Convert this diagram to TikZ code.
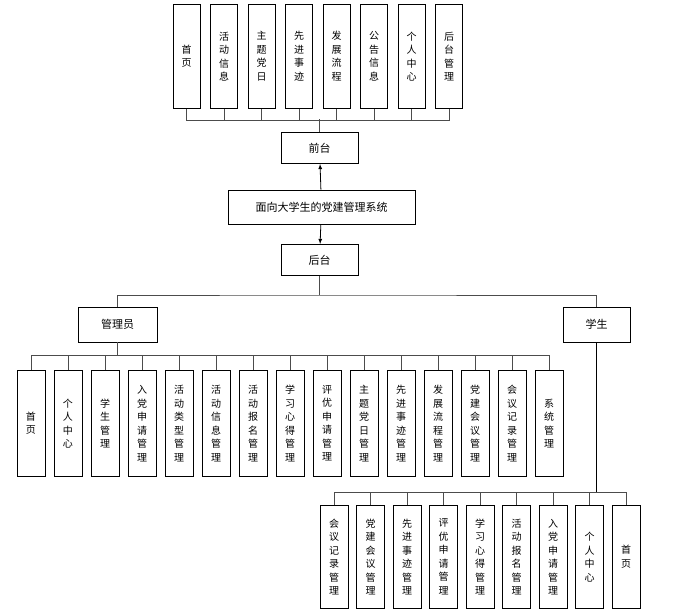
\documentclass[tikz,border=0pt]{standalone}
\usepackage{fontspec}
\newfontfamily\cjk{Noto Sans CJK SC}
\usetikzlibrary{calc}
\begin{document}
\begin{tikzpicture}[x=1pt,y=-1pt,font=\cjk\fontsize{10}{13.5}\selectfont,
 box/.style={draw,thick,fill=white,inner sep=0pt,align=center},
 vb/.style={box,minimum width=27pt,minimum height=104pt,anchor=north},
 hb/.style={box,minimum width=77pt,minimum height=31pt,font=\cjk\fontsize{11}{13}\selectfont},
 ln/.style={draw,thick,gray!60!black},
 arr/.style={draw,thick,-latex}]
\useasboundingbox (0,0) rectangle (681,613);
% top row
\foreach \t [count=\i] in {首\\页,活\\动\\信\\息,主\\题\\党\\日,先\\进\\事\\迹,发\\展\\流\\程,公\\告\\信\\息,个\\人\\中\\心,后\\台\\管\\理}{
  \node[vb] (t\i) at ({186.5+(\i-1)*37.5},4) {\t};
  \draw[ln] (t\i.south) -- ++(0,12);
}
\draw[ln] ($(t1.south)+(0,12)$) -- ($(t8.south)+(0,12)$);
\node[hb] (front) at (319.5,148) {前台};
\draw[ln] (front.north) -- ++(0,-13);
\node[box,minimum width=187pt,minimum height=34pt,font=\cjk\fontsize{11}{13}\selectfont] (sys) at (321.5,207) {面向大学生的党建管理系统};
\node[hb] (back) at (319.5,260) {后台};
\draw[arr] (sys) -- (front);
\draw[arr] (sys) -- (back);
\node[box,minimum width=79pt,minimum height=35pt,font=\cjk\fontsize{11}{13}\selectfont] (adm) at (117.5,324.5) {管理员};
\node[box,minimum width=67pt,minimum height=35pt,font=\cjk\fontsize{11}{13}\selectfont] (stu) at (596.5,324.5) {学生};
\coordinate (j1) at (319.5,295);
\draw[ln] (back.south) -- (j1);
\draw[ln] (adm.north) |- (j1) -| (stu.north);
% admin children
\foreach \t [count=\i] in {首\\页,个\\人\\中\\心,学\\生\\管\\理,入\\党\\申\\请\\管\\理,活\\动\\类\\型\\管\\理,活\\动\\信\\息\\管\\理,活\\动\\报\\名\\管\\理,学\\习\\心\\得\\管\\理,评\\优\\申\\请\\管\\理,主\\题\\党\\日\\管\\理,先\\进\\事\\迹\\管\\理,发\\展\\流\\程\\管\\理,党\\建\\会\\议\\管\\理,会\\议\\记\\录\\管\\理,系\\统\\管\\理}{
  \node[vb,minimum width=28pt,minimum height=106pt] (a\i) at ({31+(\i-1)*37},370) {\t};
  \draw[ln] (a\i.north) -- ++(0,-15);
}
\draw[ln] ($(a1.north)+(0,-15)$) -- ($(a15.north)+(0,-15)$);
\draw[ln] (adm.south) -- (adm.south|-0,355);
% student children
\foreach \t [count=\i] in {会\\议\\记\\录\\管\\理,党\\建\\会\\议\\管\\理,先\\进\\事\\迹\\管\\理,评\\优\\申\\请\\管\\理,学\\习\\心\\得\\管\\理,活\\动\\报\\名\\管\\理,入\\党\\申\\请\\管\\理,个\\人\\中\\心,首\\页}{
  \node[vb,minimum width=28pt,minimum height=103pt] (s\i) at ({334+(\i-1)*36.5},505) {\t};
  \draw[ln] (s\i.north) -- ++(0,-13);
}
\draw[ln] ($(s1.north)+(0,-13)$) -- ($(s9.north)+(0,-13)$);
\draw[line width=1.2pt] (stu.south) -- (stu.south|-0,492);
\end{tikzpicture}
\end{document}
